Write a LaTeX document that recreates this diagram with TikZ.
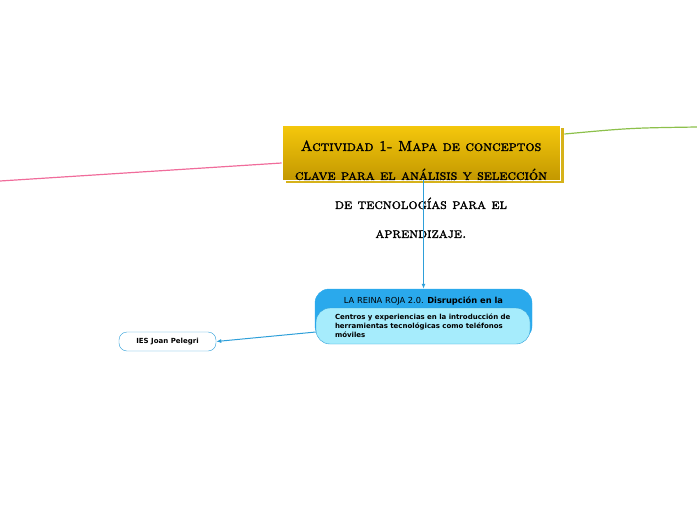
\documentclass[tikz,border=0pt]{standalone}
\usepackage{fontspec}
\newfontfamily\nodefont{DejaVu Sans}
\newfontfamily\titlefont{lmromancaps10-regular}[Extension=.otf, FakeBold=1.6]
\usetikzlibrary{arrows.meta}
\definecolor{titletop}{HTML}{F5C80C}
\definecolor{titlebot}{HTML}{C39800}
\definecolor{titleshade}{HTML}{D6B21A}
\definecolor{mainblue}{HTML}{2AA9EC}
\definecolor{lightblue}{HTML}{A6ECFC}
\definecolor{edgeblue}{HTML}{2E9FD9}
\definecolor{pinkline}{HTML}{F06C9B}
\definecolor{greenline}{HTML}{8CC04B}
\tikzset{
  titlebox/.style={rectangle, minimum width=278pt, minimum height=55pt,
    top color=titletop, bottom color=titlebot, draw=white, line width=0.8pt},
  titletext/.style={align=center, font=\titlefont\fontsize{14.5}{29}\selectfont},
  mainbox/.style={rectangle, rounded corners=14pt, minimum width=217pt,
    minimum height=51pt, fill=mainblue, draw=mainblue},
  subbox/.style={rectangle, rounded corners=14pt, minimum height=36pt,
    text width=176pt, inner xsep=19pt, align=left, fill=lightblue, draw=edgeblue,
    font=\nodefont\bfseries\fontsize{7}{9}\selectfont},
  leafbox/.style={rectangle, rounded corners=8pt, minimum width=97pt,
    minimum height=19pt, fill=white, draw=edgeblue,
    font=\nodefont\bfseries\fontsize{7}{8}\selectfont},
  link/.style={draw=edgeblue, line width=1pt, -{Latex[length=5pt,width=4pt]}}
}
\begin{document}
\begin{tikzpicture}[x=1pt,y=-1pt]
    \useasboundingbox (0,0) rectangle (697,520);
    % main topic
    \coordinate (pinkend) at (0,181);
    \coordinate (greenend) at (697,127);
    \fill[titleshade] (286,128) rectangle (564,183);
    \node[titlebox] (title) at (421,152.5) {};
    \draw[pinkline, line width=1.2pt] ([yshift=-10.5pt]title.west) -- (pinkend);
    \draw[greenline, line width=1.2pt] ([xshift=4pt,yshift=18.5pt]title.east)
        .. controls (630,128) .. (greenend);
    \node[titletext, anchor=north] (titletxt) at (421,137)
        {Actividad 1- Mapa de conceptos\\ clave para el análisis y selección\\
         de tecnologías para el\\ aprendizaje.};
    % subtopics
    \node[mainbox, label={[anchor=north, yshift=-4.5pt,
        font=\nodefont\fontsize{8.3}{10}\selectfont]north:LA REINA ROJA 2.0. \textbf{Disrupción en la}}]
        (reina) at (423.5,314.5) {};
    \draw[link] (title.south -| reina.north) -- (reina.north);
    \node[subbox] (centros) at (423,326)
        {Centros y experiencias en la introducción de\\ herramientas tecnológicas como teléfonos\\ móviles};
    \node[leafbox] (ies) at (167.5,341.5) {IES Joan Pelegri};
    \draw[link] ([yshift=-6pt]centros.west) -- (ies.east);
\end{tikzpicture}
\end{document}
